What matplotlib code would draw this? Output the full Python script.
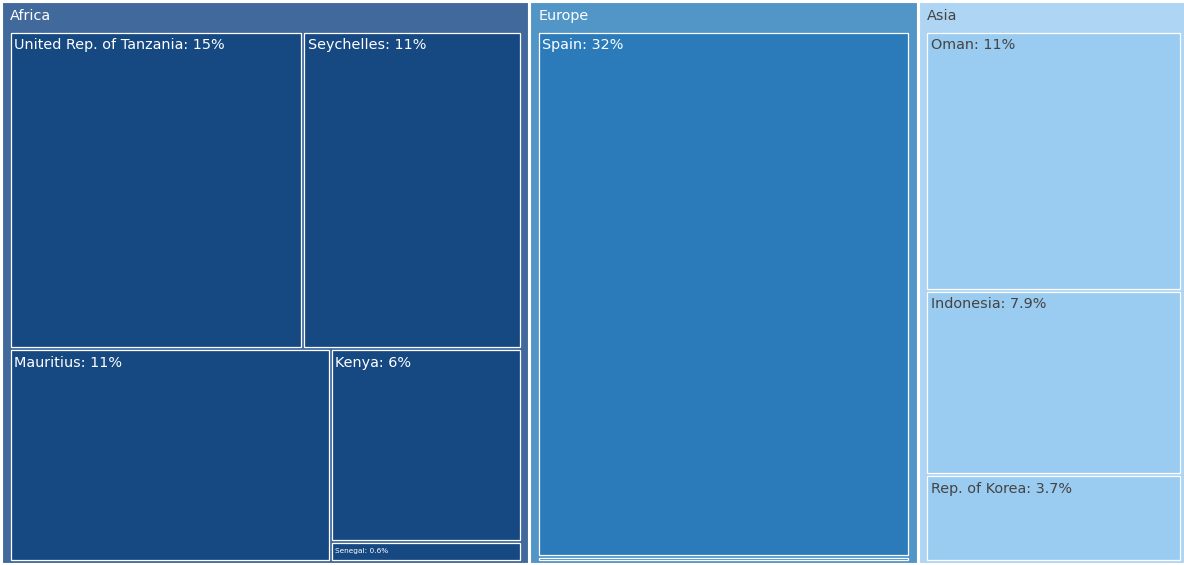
import matplotlib.pyplot as plt
from matplotlib.patches import Rectangle

# data (share of total)
regions = ['Africa', 'Europe', 'Asia']
africa_names = ['United Rep. of Tanzania', 'Seychelles', 'Mauritius', 'Kenya', 'Senegal']
africa_values = [15.2, 11.3, 11.1, 6.0, 0.6]
europe_names = ['Spain', '']
europe_values = [32.2, 0.3]
asia_names = ['Oman', 'Indonesia', 'Rep. of Korea']
asia_values = [11.1, 7.9, 3.7]

children = {
    'Africa': (africa_names, africa_values),
    'Europe': (europe_names, europe_values),
    'Asia': (asia_names, asia_values),
}
header_colors = {'Africa': '#41699b', 'Europe': '#5196c7', 'Asia': '#aed5f3'}
leaf_colors = {'Africa': '#164882', 'Europe': '#2b7bba', 'Asia': '#9acbf0'}
text_colors = {'Africa': 'white', 'Europe': 'white', 'Asia': '#444444'}


def squarify(values, x0, y0, x1, y1):
    # d3-style squarified tiling (ratio 1), values sorted descending
    rects = []
    i0, n = 0, len(values)
    value = sum(values)
    while i0 < n:
        dx, dy = x1 - x0, y1 - y0
        i1 = i0 + 1
        s = lo = hi = values[i0]
        alpha = max(dy / dx, dx / dy) / value
        beta = s * s * alpha
        best = max(hi / beta, beta / lo)
        while i1 < n:
            v = values[i1]
            s2 = s + v
            beta = s2 * s2 * alpha
            r = max(max(hi, v) / beta, beta / min(lo, v))
            if r > best:
                break
            s, lo, hi, best = s2, min(lo, v), max(hi, v), r
            i1 += 1
        row = values[i0:i1]
        if dx < dy:
            h = dy * s / value
            xs = x0
            for v in row:
                w = dx * v / s
                rects.append((xs, y0, xs + w, y0 + h))
                xs += w
            y0 += h
        else:
            w = dx * s / value
            ys = y0
            for v in row:
                h = dy * v / s
                rects.append((x0, ys, x0 + w, ys + h))
                ys += h
            x0 += w
        value -= s
        i0 = i1
    return rects


total = sum(africa_values) + sum(europe_values) + sum(asia_values)
region_values = [sum(children[r][1]) for r in regions]

fig = plt.figure(figsize=(11.84, 5.65), dpi=100)
ax = fig.add_axes([0, 0, 1, 1])
ax.set_xlim(0, 1184)
ax.set_ylim(565, 0)
ax.axis('off')

top = squarify(region_values, 1, 1, 1189, 564)
for reg, (x0, y0, x1, y1) in zip(regions, top):
    ax.add_patch(Rectangle((x0 + 1, y0 + 1), x1 - x0 - 2, y1 - y0 - 2,
                           fc=header_colors[reg], ec='white', lw=0.8))
    ax.text(x0 + 9, y0 + 15, reg, color=text_colors[reg], fontsize=10.4,
            va='center', ha='left')
    names, vals = children[reg]
    leaves = squarify(vals, x0 + 8, y0 + 30, x1 - 8, y1 - 3)
    for name, v, (a, b, c, d) in zip(names, vals, leaves):
        ax.add_patch(Rectangle((a + 1.5, b + 1.5), max(c - a - 3, 0.5), max(d - b - 3, 0.5),
                               fc=leaf_colors[reg], ec='white', lw=0.9))
        if not name:
            continue
        label = f'{name}: {v / total * 100:.2g}%'
        h = d - b
        if h < 25:
            ax.text(a + 4.5, (b + d) / 2, label, color=text_colors[reg],
                    fontsize=5.3, va='center', ha='left')
        else:
            ax.text(a + 5, b + 14, label, color=text_colors[reg],
                    fontsize=10.4, va='center', ha='left')

fig.savefig('out.png', dpi=100)
